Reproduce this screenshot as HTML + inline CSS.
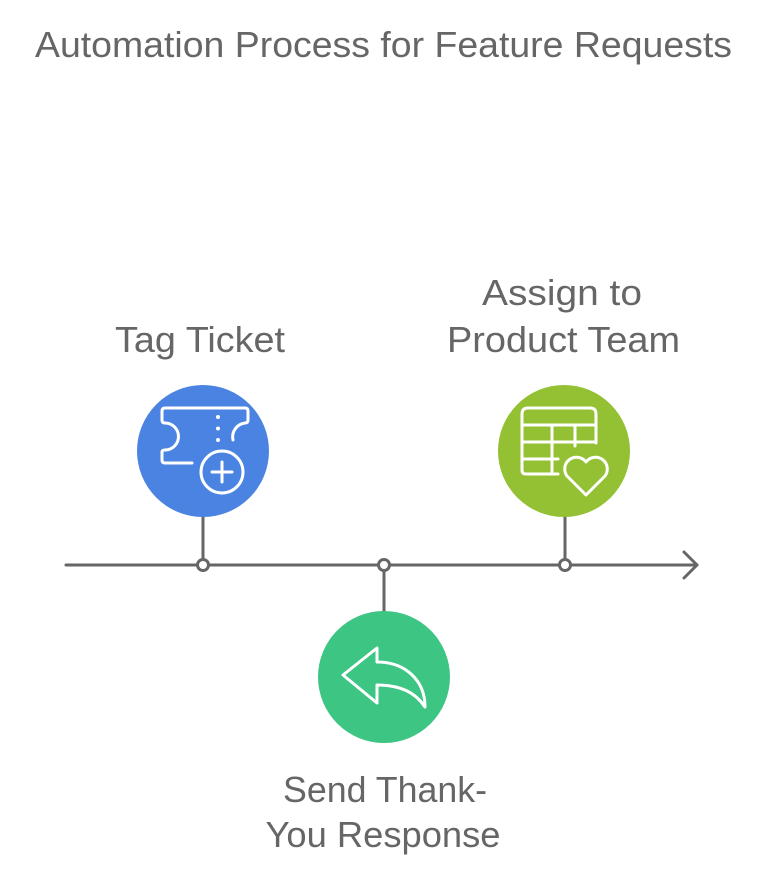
<!DOCTYPE html>
<html>
<head>
<meta charset="utf-8">
<style>
  html, body { margin:0; padding:0; background:#ffffff; }
  svg { display:block; }
  text { font-family: "Liberation Sans", Arial, sans-serif; fill:#666666; font-size:36px; }
</style>
</head>
<body>
<svg width="768" height="881" viewBox="0 0 768 881" xmlns="http://www.w3.org/2000/svg">
  <rect width="768" height="881" fill="#ffffff"/>

  <!-- Title -->
  <text x="383.5" y="57" text-anchor="middle" textLength="697" lengthAdjust="spacingAndGlyphs">Automation Process for Feature Requests</text>

  <!-- Labels -->
  <text x="200" y="352" text-anchor="middle" textLength="170" lengthAdjust="spacingAndGlyphs">Tag Ticket</text>
  <text x="562" y="305" text-anchor="middle" textLength="160" lengthAdjust="spacingAndGlyphs">Assign to</text>
  <text x="563.5" y="352" text-anchor="middle" textLength="233" lengthAdjust="spacingAndGlyphs">Product Team</text>
  <text x="385" y="802" text-anchor="middle" textLength="204" lengthAdjust="spacingAndGlyphs">Send Thank-</text>
  <text x="383" y="847" text-anchor="middle" textLength="235" lengthAdjust="spacingAndGlyphs">You Response</text>

  <!-- Timeline -->
  <g stroke="#666666" stroke-width="3" fill="none" stroke-linecap="round" stroke-linejoin="round">
    <line x1="66" y1="565" x2="697" y2="565"/>
    <polyline points="684,552 697,565 684,578"/>
    <line x1="203" y1="517" x2="203" y2="559"/>
    <line x1="565" y1="517" x2="565" y2="559"/>
    <line x1="384" y1="571" x2="384" y2="612"/>
  </g>
  <g stroke="#666666" stroke-width="3" fill="#ffffff">
    <circle cx="203" cy="565" r="5.5"/>
    <circle cx="384" cy="565" r="5.5"/>
    <circle cx="565" cy="565" r="5.5"/>
  </g>

  <!-- Blue circle: Tag Ticket -->
  <circle cx="203" cy="451" r="66" fill="#4A83E2"/>
  <g stroke="#ffffff" stroke-width="3" fill="none" stroke-linecap="round" stroke-linejoin="round">
    <path d="M 192 463 L 165 463 Q 162 463 162 460 L 162 452 Q 162 450 165 450 A 13 13 0 0 0 165 423 Q 162 423 162 420 L 162 411 Q 162 408 165 408 L 245 408 Q 248 408 248 411 L 248 420 Q 248 423 245 423 A 14 14 0 0 0 233 440"/>
    <circle cx="222" cy="472" r="21"/>
    <line x1="212" y1="472" x2="232" y2="472"/>
    <line x1="222" y1="462" x2="222" y2="482"/>
  </g>
  <g fill="#ffffff">
    <circle cx="218" cy="417" r="2"/>
    <circle cx="218" cy="428.5" r="2"/>
    <circle cx="218" cy="440" r="2"/>
  </g>

  <!-- Green circle: Assign to Product Team -->
  <circle cx="564" cy="451" r="66" fill="#93C133"/>
  <g stroke="#ffffff" stroke-width="3" fill="none" stroke-linecap="round" stroke-linejoin="round">
    <path d="M 558 474 L 526 474 Q 522 474 522 470 L 522 414 Q 522 408 528 408 L 590 408 Q 596 408 596 414 L 596 443"/>
    <line x1="522" y1="425" x2="596" y2="425"/>
    <line x1="522" y1="442" x2="596" y2="442"/>
    <line x1="522" y1="459" x2="558" y2="459"/>
    <line x1="552" y1="425" x2="552" y2="474"/>
    <line x1="575" y1="425" x2="575" y2="446"/>
    <path d="M 586 495 L 567 476 A 10.5 10.5 0 0 1 586 462 A 10.5 10.5 0 0 1 605 476 Z"/>
  </g>

  <!-- Teal circle: Send Thank-You Response -->
  <circle cx="384" cy="677" r="66" fill="#3DC583"/>
  <path d="M 343 675 L 377 648 L 377 662 C 405 662 425 680 425 707 C 415 692 400 685 377 685 L 377 703 Z" fill="none" stroke="#ffffff" stroke-width="3" stroke-linejoin="round"/>
</svg>
</body>
</html>
